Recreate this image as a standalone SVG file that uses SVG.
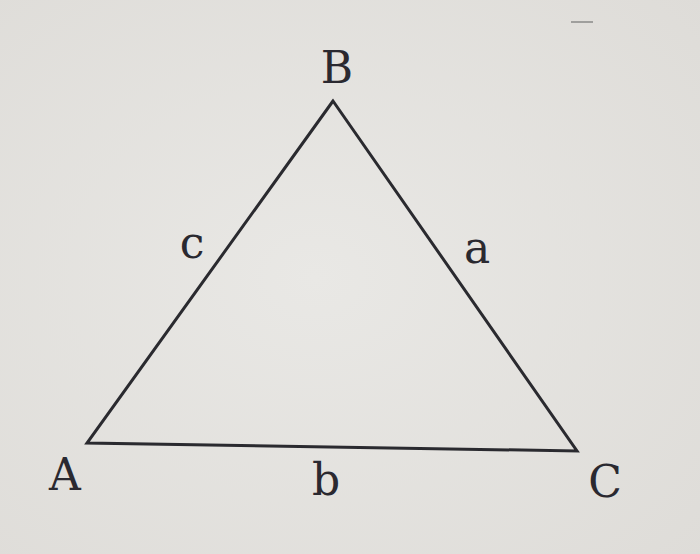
<svg xmlns="http://www.w3.org/2000/svg" width="700" height="554" viewBox="0 0 700 554">
<defs>
<radialGradient id="bg" cx="0.45" cy="0.5" r="0.75">
<stop offset="0" stop-color="#e9e8e5"/>
<stop offset="1" stop-color="#dedcd8"/>
</radialGradient>
</defs>
<style>
.lbl{font-family:'DejaVu Serif',serif;font-size:44px;fill:#2a2930;text-anchor:middle}
.edge{fill:none;stroke:#2a2a2f;stroke-width:3;stroke-linejoin:miter}
</style>
<rect width="700" height="554" fill="url(#bg)"/>
<line x1="571" y1="22" x2="593" y2="22" stroke="#8a8a88" stroke-width="1.5"/>
<g id="connectors">
<polygon class="edge" points="333,101 87,443 577,451"/>
</g>
<g id="node-B"><text class="lbl" x="337" y="83">B</text></g>
<g id="node-A"><text class="lbl" x="65" y="490">A</text></g>
<g id="node-C"><text class="lbl" x="605" y="497">C</text></g>
<g id="label-c"><text class="lbl" x="192" y="258">c</text></g>
<g id="label-a"><text class="lbl" x="477" y="263">a</text></g>
<g id="label-b"><text class="lbl" x="326" y="495">b</text></g>
</svg>
